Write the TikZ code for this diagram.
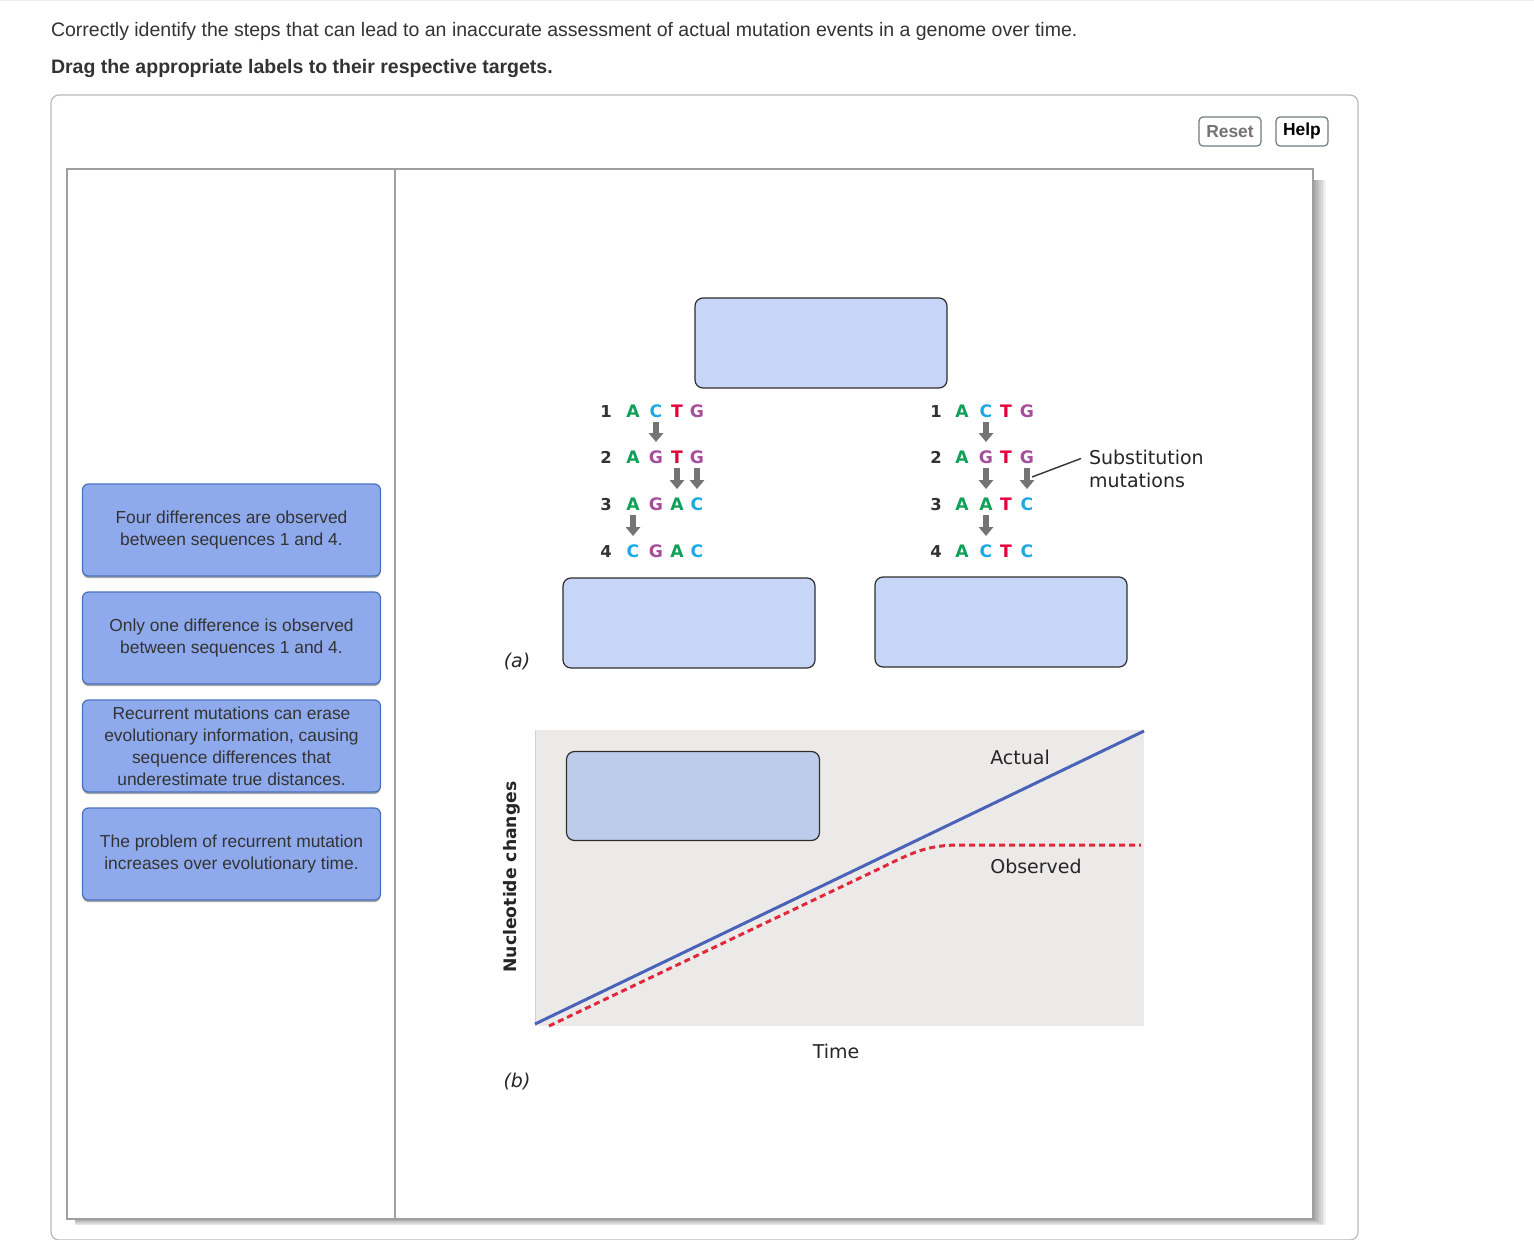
\documentclass[tikz,border=0pt]{standalone}
\usepackage{fontspec}
\setmainfont{Liberation Sans}
\newfontfamily\figfont{DejaVu Sans}
\usetikzlibrary{arrows.meta,shadows}
\definecolor{txt}{HTML}{333333}
\definecolor{lblfill}{HTML}{8FAAEC}
\definecolor{lbledge}{HTML}{4A70C0}
\definecolor{tgtfill}{HTML}{C7D6F6}
\definecolor{tgtfill2}{HTML}{BCCCEA}
\definecolor{tgtedge}{HTML}{2E2E2E}
\definecolor{btnedge}{HTML}{6F7C84}
\definecolor{cA}{HTML}{10A058}
\definecolor{cC}{HTML}{1EA8E4}
\definecolor{cT}{HTML}{E4003A}
\definecolor{cG}{HTML}{A64E9C}
\definecolor{arr}{HTML}{747474}
\definecolor{plotbg}{HTML}{EBEAE9}
\definecolor{actual}{HTML}{4A63B9}
\definecolor{observed}{HTML}{E0283A}
\begin{document}
\begin{tikzpicture}[x=0.5pt,y=-0.5pt,
  every node/.style={inner sep=0pt, outer sep=0pt},
  hdr/.style={anchor=base west, text=txt, font=\fontsize{9.75}{12}\selectfont},
  btn/.style={draw=btnedge, line width=0.6pt, rounded corners=2pt, fill=white, font=\bfseries\fontsize{8.7}{10}\selectfont, minimum height=14.5pt},
  dragbox/.style={draw=lbledge, fill=lblfill, line width=0.6pt, rounded corners=3pt, minimum width=149pt, minimum height=46pt, align=center, text=txt, font=\fontsize{8.7}{11}\selectfont, drop shadow={shadow xshift=0pt, shadow yshift=-1pt, opacity=0.35, fill=black}},
  dropbox/.style={draw=tgtedge, fill=tgtfill, line width=0.6pt, rounded corners=4pt, minimum width=126pt, minimum height=45pt},
  nuc/.style={font=\figfont\bfseries\fontsize{8.6}{10}\selectfont, text height=6.2pt, text depth=0pt},
  num/.style={font=\figfont\bfseries\fontsize{8.2}{10}\selectfont, text=black!80, text height=6.2pt, text depth=0pt},
  seqarr/.style={draw=arr, line width=2.6pt, -{Triangle[width=7pt,length=4.4pt]}, shorten <=2.3pt, shorten >=4.4pt},
  fig/.style={font=\figfont\fontsize{9.5}{11.5}\selectfont, text=black!85},
]
\useasboundingbox (0,0) rectangle (1534,1240);
\fill[white] (0,0) rectangle (1534,1240);
\draw[gray!15, line width=0.5pt] (0,1) -- (1534,1);

% header
\node[hdr] (q) at (51,36.5) {Correctly identify the steps that can lead to an inaccurate assessment of actual mutation events in a genome over time.};
\node[hdr, font=\bfseries\fontsize{9.75}{12}\selectfont] (instr) at (51,74) {Drag the appropriate labels to their respective targets.};

% outer panel
\draw[gray!55, line width=0.6pt, rounded corners=4pt] (51,95) rectangle (1358,1240);

% buttons
\node[btn, text=black!55, minimum width=31pt] (reset) at (1230,131.5) {Reset};
\node[btn, text=black, minimum width=26pt] (help) at (1302,131.5) {Help};

% inner frame with shadow
\foreach \i in {1,...,8}
  \fill[black, opacity=0.05] (75,180) rectangle ({1313+1.6*\i},{1219+0.8*\i});
\draw[fill=white, draw=gray!75, line width=0.6pt] (67,169) rectangle (1313,1219);
\draw[gray!75, line width=0.6pt] (395,169) -- (395,1219);

% draggable labels
\node[dragbox] (l1) at (231.5,530) {Four differences are observed\\between sequences 1 and 4.};
\node[dragbox] (l2) at (231.5,638) {Only one difference is observed\\between sequences 1 and 4.};
\node[dragbox] (l3) at (231.5,746) {Recurrent mutations can erase\\evolutionary information, causing\\sequence differences that\\underestimate true distances.};
\node[dragbox] (l4) at (231.5,854) {The problem of recurrent mutation\\increases over evolutionary time.};

% targets (a)
\node[dropbox] (ttop) at (821,343) {};
\node[dropbox] (tleft) at (689,623) {};
\node[dropbox] (tright) at (1001,622) {};

% left sequences
\node[num] (na1) at (606,411) {1};
\node[num] (na2) at (606,457) {2};
\node[num] (na3) at (606,504) {3};
\node[num] (na4) at (606,551) {4};
\foreach \L/\c/\x [count=\k] in {A/cA/633, C/cC/656, T/cT/677, G/cG/697}
  \node[nuc, text=\c] (a1\k) at (\x,411) {\L};
\foreach \L/\c/\x [count=\k] in {A/cA/633, G/cG/656, T/cT/677, G/cG/697}
  \node[nuc, text=\c] (a2\k) at (\x,457) {\L};
\foreach \L/\c/\x [count=\k] in {A/cA/633, G/cG/656, A/cA/677, C/cC/697}
  \node[nuc, text=\c] (a3\k) at (\x,504) {\L};
\foreach \L/\c/\x [count=\k] in {C/cC/633, G/cG/656, A/cA/677, C/cC/697}
  \node[nuc, text=\c] (a4\k) at (\x,551) {\L};
\draw[seqarr] (a12) -- (a22);
\draw[seqarr] (a23) -- (a33);
\draw[seqarr] (a24) -- (a34);
\draw[seqarr] (a31) -- (a41);

% right sequences
\node[num] (nb1) at (936,411) {1};
\node[num] (nb2) at (936,457) {2};
\node[num] (nb3) at (936,504) {3};
\node[num] (nb4) at (936,551) {4};
\foreach \L/\c/\x [count=\k] in {A/cA/962, C/cC/986, T/cT/1006, G/cG/1027}
  \node[nuc, text=\c] (b1\k) at (\x,411) {\L};
\foreach \L/\c/\x [count=\k] in {A/cA/962, G/cG/986, T/cT/1006, G/cG/1027}
  \node[nuc, text=\c] (b2\k) at (\x,457) {\L};
\foreach \L/\c/\x [count=\k] in {A/cA/962, A/cA/986, T/cT/1006, C/cC/1027}
  \node[nuc, text=\c] (b3\k) at (\x,504) {\L};
\foreach \L/\c/\x [count=\k] in {A/cA/962, C/cC/986, T/cT/1006, C/cC/1027}
  \node[nuc, text=\c] (b4\k) at (\x,551) {\L};
\draw[seqarr] (b12) -- (b22);
\draw[seqarr] (b22) -- (b32);
\draw[seqarr] (b24) -- (b34);
\draw[seqarr] (b32) -- (b42);

% substitution callout
\node[fig, anchor=west, align=left, inner xsep=4pt] (sub) at (1081,468.5) {Substitution\\mutations};
\coordinate (subtip) at (1032,477);
\draw[black!80, line width=0.7pt] ([yshift=5pt]sub.west) -- (subtip);

\node[fig, font=\figfont\itshape\fontsize{9.5}{11.5}\selectfont] (pa) at (517,662) {(a)};

% graph (b)
\fill[plotbg] (535,730) rectangle (1144,1026);
\draw[gray!35, line width=0.5pt] (535.5,730) -- (535.5,1026);
\node[dropbox, fill=tgtfill2, minimum width=126.5pt, minimum height=44.5pt] (tgraph) at (693,796) {};
\coordinate (act0) at (535,1024);
\coordinate (act1) at (1144,731);
\draw[actual, line width=1.5pt] (act0) -- (act1);
\coordinate (obs0) at (549,1026);
\coordinate (obs1) at (885,866);
\coordinate (obs2) at (915,851);
\coordinate (obs3) at (930,845);
\coordinate (obs4) at (960,845);
\coordinate (obs5) at (1141,845);
\draw[observed, line width=1.5pt, dash pattern=on 3pt off 2pt] (obs0) -- (obs1) .. controls (obs2) and (obs3) .. (obs4) -- (obs5);
\node[fig] (tact) at (1020,757) {Actual};
\node[fig] (tobs) at (1036,866) {Observed};
\node[fig] (ttime) at (836,1051) {Time};
\node[fig, rotate=90, font=\figfont\bfseries\fontsize{8.6}{10}\selectfont] (tnuc) at (512,877) {Nucleotide changes};
\node[fig, font=\figfont\itshape\fontsize{9.5}{11.5}\selectfont] (pb) at (517,1082) {(b)};
\end{tikzpicture}
\end{document}
